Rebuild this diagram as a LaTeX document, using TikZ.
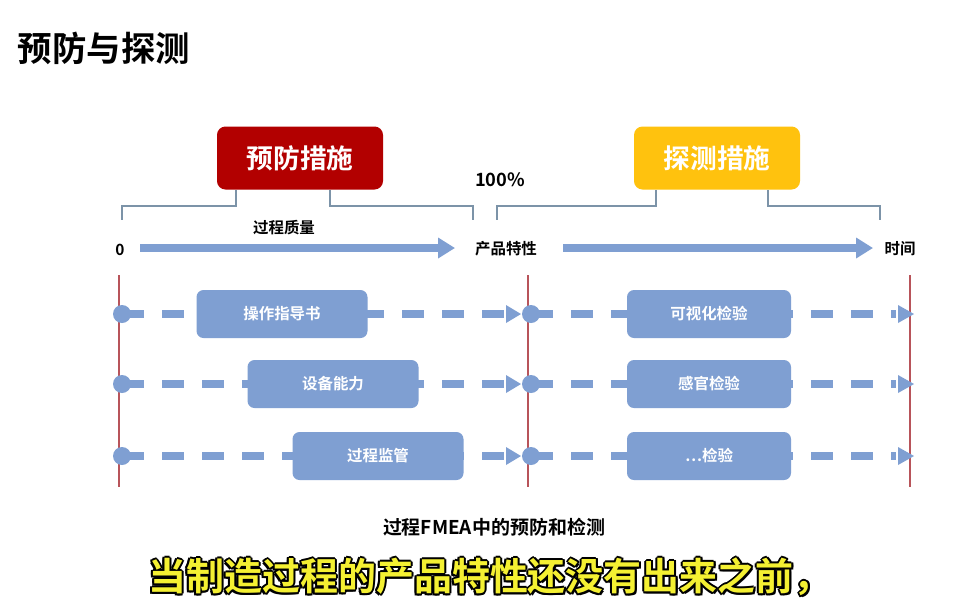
\documentclass[tikz,border=0pt]{standalone}
\usepackage{fontspec}
\setmainfont{Noto Sans CJK SC}[BoldFont={Noto Sans CJK SC Bold}]
\usetikzlibrary{arrows.meta,positioning}
\definecolor{boxblue}{HTML}{7F9FD2}
\definecolor{linered}{HTML}{B8545A}
\definecolor{brackgray}{HTML}{7C93A8}
\definecolor{prevred}{HTML}{B20000}
\definecolor{detyel}{HTML}{FFC20E}
\definecolor{subyel}{HTML}{F4F032}
\tikzset{>=Triangle,
  measbox/.style={rounded corners=6pt,minimum width=166\pxu,minimum height=63\pxu,text=white,font=\fontsize{19}{19}\selectfont\bfseries},
  stepbox/.style={rounded corners=5pt,fill=boxblue,minimum width=171\pxu,minimum height=48\pxu,text=white,font=\fontsize{11}{11}\selectfont\bfseries},
  lbl/.style={font=\fontsize{11}{11}\selectfont\bfseries},
  dashline/.style={boxblue,line width=5pt,dash pattern=on 22\pxu off 18\pxu},
  axis/.style={boxblue,line width=5pt,-{Triangle[length=12pt,width=14pt]}},
  brack/.style={brackgray,line width=1.3pt},
  subtxt/.style={font=\fontsize{27}{27}\selectfont\bfseries}}
\newlength{\pxu}\setlength{\pxu}{0.025cm}
\begin{document}
\begin{tikzpicture}[x=0.025cm,y=-0.025cm]
\useasboundingbox (0,0) rectangle (972,608);
\fill[white] (0,0) rectangle (972,608);
\node[anchor=west,font=\fontsize{24.5}{24.5}\selectfont\bfseries] (title) at (13,48) {预防与探测};
% measures
\node[measbox,fill=prevred] (prev) at (300,158) {预防措施};
\node[measbox,fill=detyel] (det) at (717,158) {探测措施};
\node[font=\fontsize{13}{13}\selectfont\bfseries] (full) at (500,180) {100\%};
\draw[brack] (236,190) -- (236,206) -- (122,206) -- (122,220);
\draw[brack] (330,190) -- (330,206) -- (473,206) -- (473,220);
\draw[brack] (656,190) -- (656,206) -- (497,206) -- (497,220);
\draw[brack] (768,190) -- (768,206) -- (880,206) -- (880,220);
% axis
\node[lbl] (zero) at (120,250) {0};
\node[lbl] (prod) at (506,249) {产品特性};
\node[lbl] (time) at (900,249) {时间};
\node[lbl] (qual) at (284,228) {过程质量};
\draw[axis] (140,248) -- (455,248);
\draw[axis] (563,248) -- (873,248);
% time lines
\foreach \x in {119,528,910}
  \draw[linered,line width=1pt] (\x,275) -- (\x,487);
% rows
\foreach \y/\xl/\tl/\tr [count=\i] in {314/282/操作指导书/可视化检验,384/333/设备能力/感官检验,456/378/过程监管/…检验}{
  \draw[dashline] (122,\y) -- (512,\y);
  \draw[dashline] (531,\y) -- (896,\y);
  \fill[boxblue] (122,\y) circle (9);
  \fill[boxblue] (531,\y) circle (9);
  \fill[boxblue] (506,\y-9) -- (521,\y) -- (506,\y+9) -- cycle;
  \fill[boxblue] (898,\y-9) -- (914,\y) -- (898,\y+9) -- cycle;
  \node[stepbox] (l\i) at (\xl,\y) {\tl};
  \node[stepbox,minimum width=164\pxu] (r\i) at (709,\y) {\tr};
}
\node[font=\fontsize{13.5}{13.5}\selectfont\bfseries] (cap) at (494,527) {过程FMEA中的预防和检测};
% subtitle
\foreach \dx/\dy in {-2/0,2/0,0/-2,0/2,-1.5/-1.5,1.5/1.5,-1.5/1.5,1.5/-1.5}
  \node[subtxt] at (490+\dx,577+\dy) {当制造过程的产品特性还没有出来之前，};
\node[subtxt,text=subyel] (sub) at (490,577) {当制造过程的产品特性还没有出来之前，};
\end{tikzpicture}
\end{document}
